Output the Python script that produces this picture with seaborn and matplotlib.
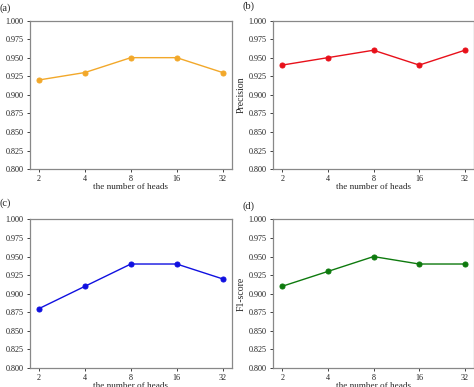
import matplotlib
matplotlib.use("Agg")
import matplotlib.pyplot as plt
import pandas as pd
import seaborn as sns

heads = ["2", "4", "8", "16", "32"]
auc = [0.92, 0.93, 0.95, 0.95, 0.93]
precision = [0.94, 0.95, 0.96, 0.94, 0.96]
recall = [0.88, 0.91, 0.94, 0.94, 0.92]
f1 = [0.91, 0.93, 0.95, 0.94, 0.94]

panels = [
    ("(a)", "AUC", auc, "#f2a82a"),
    ("(b)", "Precision", precision, "#e8101a"),
    ("(c)", "Recall", recall, "#1010e0"),
    ("(d)", "F1-score", f1, "#0e7a0e"),
]

sns.set_style("white")
plt.rcParams["font.family"] = ["Liberation Serif", "DejaVu Serif"]

fig = plt.figure(figsize=(4.74, 3.87), dpi=100)
boxes = [
    [0.063, 0.563, 0.426, 0.384],
    [0.576, 0.563, 0.424, 0.384],
    [0.063, 0.049, 0.426, 0.384],
    [0.576, 0.049, 0.424, 0.384],
]
label_pos = [(0.0, 0.979), (0.511, 0.984), (0.0, 0.475), (0.511, 0.468)]

for (tag, name, values, color), box, (lx, ly) in zip(panels, boxes, label_pos):
    ax = fig.add_axes(box)
    df = pd.DataFrame({"heads": heads, "value": values})
    sns.lineplot(data=df, x="heads", y="value", color=color, marker="o",
                 markersize=3.6, markeredgecolor=color, linewidth=1.0,
                 sort=False, ax=ax)
    ax.set_ylim(0.8, 1.0)
    ax.set_yticks([0.8 + 0.025 * i for i in range(9)])
    ax.set_yticklabels([f"{0.8 + 0.025 * i:.3f}" for i in range(9)])
    ax.set_xlabel("the number of heads", fontsize=6.6, labelpad=0)
    ax.set_ylabel(name, fontsize=7, labelpad=2.5)
    ax.tick_params(axis="both", labelsize=5.9, length=2.5, width=0.6,
                   direction="out", colors="#222222", pad=2)
    ax.tick_params(left=True, bottom=True)
    for sp in ax.spines.values():
        sp.set_color("#888888")
        sp.set_linewidth(0.9)
    fig.text(lx, ly, tag, fontsize=7.5, ha="left", va="center")

fig.savefig("out.png", dpi=100)
